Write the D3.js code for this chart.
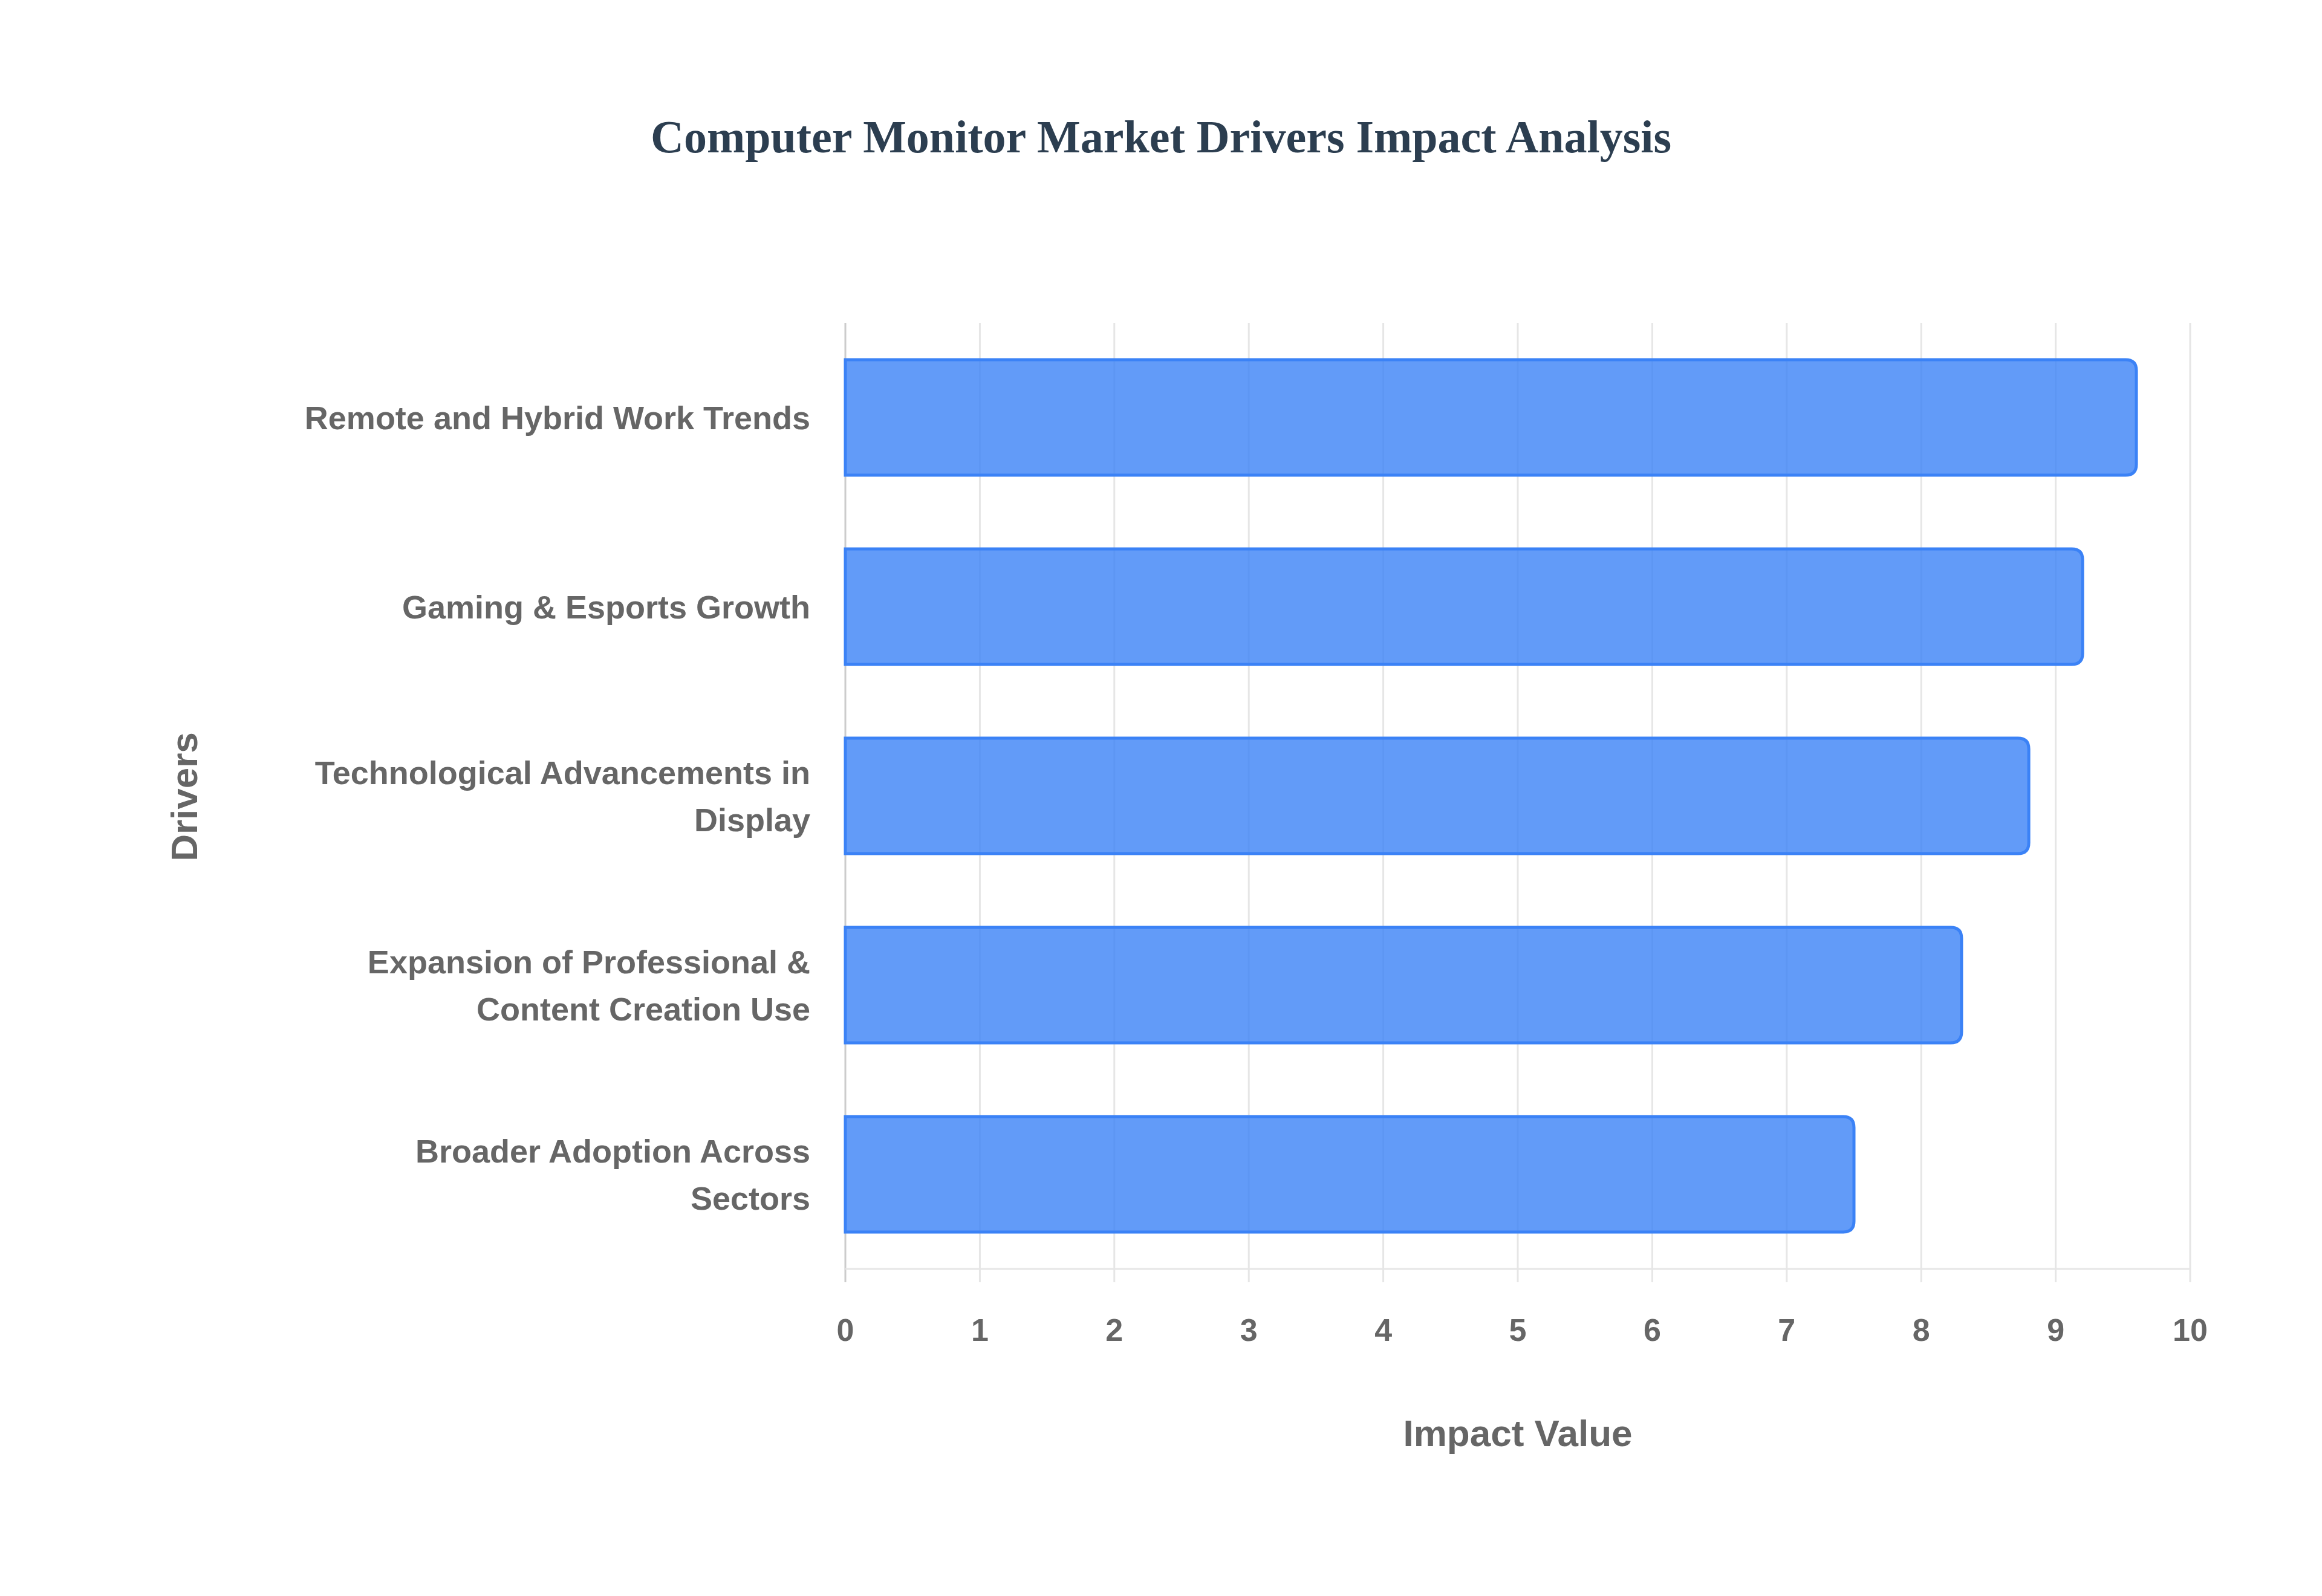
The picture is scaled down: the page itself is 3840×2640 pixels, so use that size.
<!DOCTYPE html>
<html><head><meta charset="utf-8">
<script src="https://cdn.jsdelivr.net/npm/d3@7"></script>
<style>body{margin:0;background:#fff}</style>
</head><body>
<svg id="chart" width="3840" height="2640"></svg>
<script>
// chart data
var drivers = ["Remote and Hybrid Work Trends", "Gaming & Esports Growth",
  "Technological Advancements in|Display", "Expansion of Professional &|Content Creation Use",
  "Broader Adoption Across|Sectors"];
var impact = [9.6, 9.2, 8.8, 8.3, 7.5];
var xTicks = [0,1,2,3,4,5,6,7,8,9,10];

var svg = d3.select("#chart");
var plotLeft = 1398, plotRight = 3622, plotTop = 534, plotBottom = 2099;

var x = d3.scaleLinear().domain([0, 10]).range([plotLeft, plotRight]);
var y = d3.scaleBand().domain(drivers).range([plotTop, plotBottom]).paddingInner(0.39).paddingOuter(0.195);

// title
svg.append("text").attr("x", 1920).attr("y", 252).attr("text-anchor", "middle")
  .style("font-family", "Liberation Serif, serif").style("font-weight", "bold")
  .style("font-size", "76px").style("fill", "#2c3e50")
  .text("Computer Monitor Market Drivers Impact Analysis");

// grid
svg.selectAll(".grid").data(xTicks).enter().append("line")
  .attr("x1", d => x(d)).attr("x2", d => x(d))
  .attr("y1", plotTop).attr("y2", plotBottom + 22)
  .style("stroke", d => d === 0 ? "#cccccc" : "#e6e6e6").style("stroke-width", 3);

svg.append("line").attr("x1", plotLeft).attr("x2", plotRight).attr("y1", plotBottom).attr("y2", plotBottom)
  .style("stroke", "#e6e6e6").style("stroke-width", 3);

// bars, rounded right end
var r = 18;
svg.selectAll(".bar").data(drivers).enter().append("path")
  .attr("d", function(d, i) {
    var x0 = x(0), x1 = x(impact[i]), y0 = y(d), h = y.bandwidth();
    return "M" + x0 + "," + y0 + "H" + (x1 - r) + "Q" + x1 + "," + y0 + " " + x1 + "," + (y0 + r) +
      "V" + (y0 + h - r) + "Q" + x1 + "," + (y0 + h) + " " + (x1 - r) + "," + (y0 + h) + "H" + x0 + "Z";
  })
  .style("fill", "rgba(59,130,246,0.8)").style("stroke", "#3b82f6").style("stroke-width", 5);

// x tick labels
svg.selectAll(".xt").data(xTicks).enter().append("text")
  .attr("x", d => x(d)).attr("y", 2218).attr("text-anchor", "middle")
  .style("font-family", "Liberation Sans, Arial, sans-serif").style("font-weight", "bold")
  .style("font-size", "52px").style("fill", "#666").text(d => d);

// y labels
drivers.forEach(function(d) {
  var lines = d.split("|");
  var cy = y(d) + y.bandwidth() / 2;
  var t = svg.append("text").attr("text-anchor", "end")
    .style("font-family", "Liberation Sans, Arial, sans-serif").style("font-weight", "bold")
    .style("font-size", "54px").style("fill", "#666");
  lines.forEach(function(l, j) {
    t.append("tspan").attr("x", 1340)
      .attr("y", cy + 19 + (j - (lines.length - 1) / 2) * 78).text(l);
  });
});

// axis titles
svg.append("text").attr("x", (plotLeft + plotRight) / 2).attr("y", 2392).attr("text-anchor", "middle")
  .style("font-family", "Liberation Sans, Arial, sans-serif").style("font-weight", "bold")
  .style("font-size", "62px").style("fill", "#666").text("Impact Value");

svg.append("text").attr("transform", "translate(326,1318) rotate(-90)").attr("text-anchor", "middle")
  .style("font-family", "Liberation Sans, Arial, sans-serif").style("font-weight", "bold")
  .style("font-size", "62px").style("fill", "#666").text("Drivers");
</script>
</body></html>
